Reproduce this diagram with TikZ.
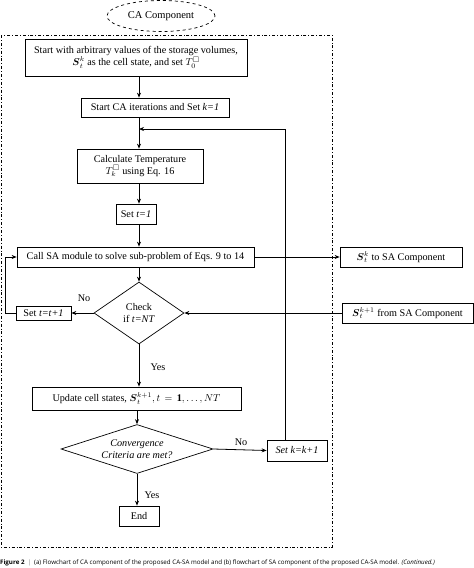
\documentclass[tikz,border=0pt]{standalone}
\usepackage{amsmath,amssymb}
\usepackage{fontspec}
\setmainfont{Liberation Serif}
\newfontfamily\capfont{Open Sans}
\usetikzlibrary{shapes.geometric,arrows.meta}
\newcommand{\bS}{\boldsymbol{S}}
\begin{document}
\begin{tikzpicture}[x=1pt,y=-1pt,
  every node/.style={font=\fontsize{10.2}{12}\selectfont},
  box/.style={draw, line width=0.7pt, inner sep=0pt, align=center},
  dia/.style={draw, diamond, line width=0.7pt, inner sep=0pt, align=center},
  arr/.style={line width=0.8pt, -{Stealth[length=5pt,width=4pt]}},
  lbl/.style={inner sep=0pt}]
\useasboundingbox (0,0) rectangle (474,568);
% frame and title
\draw[line width=0.8pt, dash dot] (1,35) rectangle (332,547);
\node[draw, dashed, ellipse, line width=0.7pt, minimum width=108pt, minimum height=31pt, inner sep=0pt, font=\fontsize{10.5}{12}\selectfont] (title) at (161,16) {CA Component};
% boxes
\node[box, minimum width=222pt, minimum height=37pt] (b1) at (136,57.5) {Start with arbitrary values of the storage volumes,\\ $\bS_t^k$ as the cell state, and set $T_0^{\square}$};
\node[box, minimum width=148pt, minimum height=19pt] (b2) at (155,107.5) {Start CA iterations and Set \textit{k=1}};
\node[box, minimum width=126pt, minimum height=34pt] (b3) at (140,166) {Calculate Temperature\\ $T_k^{\square}$ using Eq. 16};
\node[box, minimum width=40pt, minimum height=20pt] (b4) at (136,214) {Set \textit{t=1}};
\node[box, minimum width=237pt, minimum height=20pt] (b5) at (135.5,257) {Call SA module to solve sub-problem of Eqs. 9 to 14};
\node[dia, aspect=1.45, minimum width=90pt, minimum height=62pt] (d1) at (139,313) {Check\\ if \textit{t=NT}};
\node[box, minimum width=55pt, minimum height=14pt] (b6) at (43.5,313) {Set \textit{t=t+1}};
\node[box, minimum width=122pt, minimum height=20pt] (b7) at (401,257) {$\bS_t^k$ to SA Component};
\node[box, minimum width=131pt, minimum height=20pt] (b8) at (407.5,313) {$\bS_t^{k+1}$ from SA Component};
\node[box, minimum width=209pt, minimum height=23pt] (b9) at (136.5,398.5) {Update cell states, $\bS_t^{k+1}, t\,=\,\mathbf{1},\ldots,NT$};
\node[dia, aspect=3.1, minimum width=152pt, minimum height=49pt, font=\fontsize{10.2}{11.5}\selectfont] (d2) at (137,449) {\textit{Convergence}\\ \textit{Criteria are met?}};
\node[box, minimum width=60pt, minimum height=21pt] (b10) at (297,450.5) {\textit{Set k=k+1}};
\node[box, minimum width=40pt, minimum height=20pt] (b11) at (139,516) {End};
% labels
\node[lbl] (no1) at (84,298) {No};
\node[lbl] (yes1) at (158,367) {Yes};
\node[lbl] (no2) at (241,442) {No};
\node[lbl] (yes2) at (152,495) {Yes};
% helper coordinates
\coordinate (mx) at (139,0);
\coordinate (kx) at (285,0);
\coordinate (kj) at (139,129);
\coordinate (tx) at (5,0);
% connectors
\draw[arr] (b1.south -| mx) -- (b2.north -| mx);
\draw[line width=0.8pt] (b2.south -| mx) -- (kj);
\draw[arr] (kj) -- (b3.north -| mx);
\draw[arr] (b3.south -| mx) -- (b4.north -| mx);
\draw[arr] (b4.south -| mx) -- (b5.north -| mx);
\draw[arr] (b5.south -| mx) -- (d1.north);
\draw[arr] (b5.east) -- (b7.west);
\draw[arr] (b8.west) -- (d1.east);
\draw[arr] (d1.west) -- (b6.east);
\draw[arr] (b6.west) -- (b6.west -| tx) |- (b5.west);
\draw[arr] (d1.south) -- (b9.north -| d1.south);
\draw[arr] (b9.south -| d2.north) -- (d2.north);
\draw[arr] (d2.east) -- (b10.west);
\draw[arr] (b10.north -| kx) |- (kj);
\draw[arr] (d2.south) -- (b11.north -| d2.south);
% caption
\node[anchor=west, inner sep=0pt, font=\capfont\fontsize{6.2}{7}\selectfont] (cap) at (0,563) {\textbf{Figure 2}\enspace\textcolor{gray}{|}\enspace(a) Flowchart of CA component of the proposed CA-SA model and (b) flowchart of SA component of the proposed CA-SA model. \textit{(Continued.)}};
\end{tikzpicture}
\end{document}
